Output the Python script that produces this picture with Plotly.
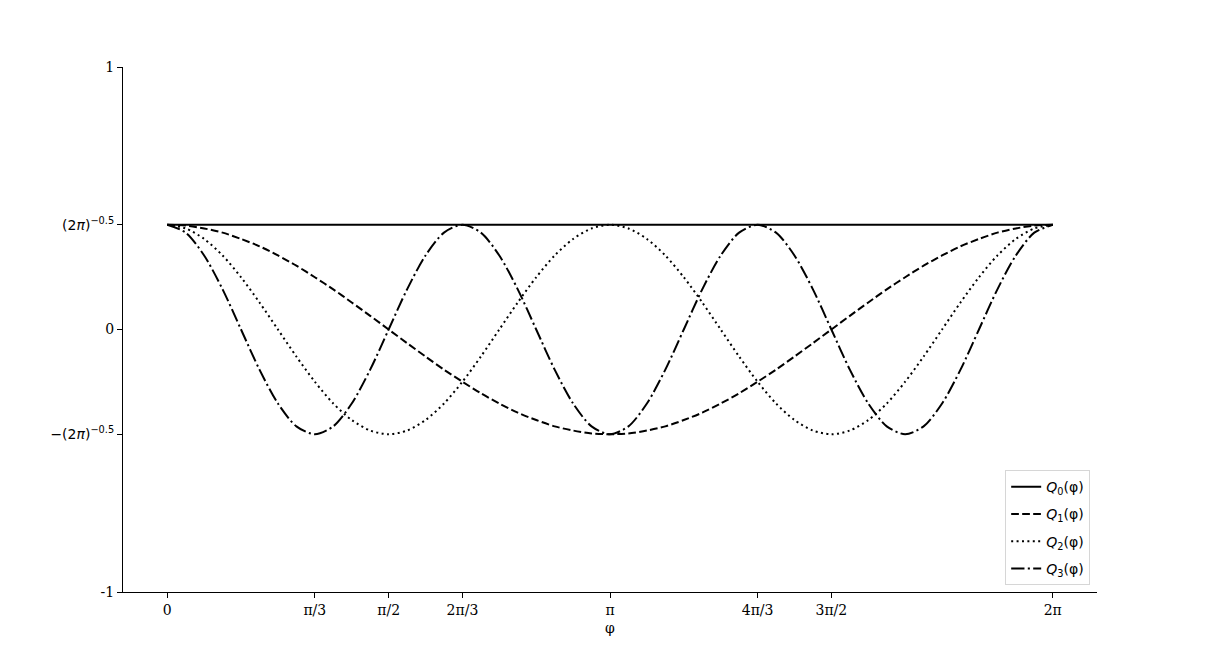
import numpy as np
import plotly.graph_objects as go

# samples every pi/24
phi = [n * np.pi / 24 for n in range(49)]
q0 = [0.399] * 49
q1 = [0.399, 0.396, 0.385, 0.369, 0.345, 0.317, 0.282, 0.243, 0.199, 0.153, 0.103, 0.052, 0.0,
      -0.052, -0.103, -0.153, -0.199, -0.243, -0.282, -0.317, -0.345, -0.369, -0.385, -0.396, -0.399,
      -0.396, -0.385, -0.369, -0.345, -0.317, -0.282, -0.243, -0.199, -0.153, -0.103, -0.052, 0.0,
      0.052, 0.103, 0.153, 0.199, 0.243, 0.282, 0.317, 0.345, 0.369, 0.385, 0.396, 0.399]
q2 = [0.399, 0.385, 0.345, 0.282, 0.199, 0.103, 0.0, -0.103, -0.199, -0.282, -0.345, -0.385, -0.399,
      -0.385, -0.345, -0.282, -0.199, -0.103, 0.0, 0.103, 0.199, 0.282, 0.345, 0.385, 0.399,
      0.385, 0.345, 0.282, 0.199, 0.103, 0.0, -0.103, -0.199, -0.282, -0.345, -0.385, -0.399,
      -0.385, -0.345, -0.282, -0.199, -0.103, 0.0, 0.103, 0.199, 0.282, 0.345, 0.385, 0.399]
q3 = [0.399, 0.369, 0.282, 0.153, 0.0, -0.153, -0.282, -0.369, -0.399, -0.369, -0.282, -0.153, 0.0,
      0.153, 0.282, 0.369, 0.399, 0.369, 0.282, 0.153, 0.0, -0.153, -0.282, -0.369, -0.399,
      -0.369, -0.282, -0.153, 0.0, 0.153, 0.282, 0.369, 0.399, 0.369, 0.282, 0.153, 0.0,
      -0.153, -0.282, -0.369, -0.399, -0.369, -0.282, -0.153, 0.0, 0.153, 0.282, 0.369, 0.399]

xtick_vals = [0, np.pi / 3, np.pi / 2, 2 * np.pi / 3, np.pi, 4 * np.pi / 3, 3 * np.pi / 2, 2 * np.pi]
xtick_text = ['0', 'π/3', 'π/2', '2π/3', 'π', '4π/3', '3π/2', '2π']
c = (2 * np.pi) ** -0.5
ytick_vals = [-1, -c, 0, c, 1]
ytick_text = ['-1',
              '<span style="font-family:DejaVu Sans">−(2<i>π</i>)<sup>−0.5</sup></span>',
              '0',
              '<span style="font-family:DejaVu Sans">(2<i>π</i>)<sup>−0.5</sup></span>',
              '1']

series = [('<i>Q</i><sub>0</sub>(φ)', q0, 'solid'),
          ('<i>Q</i><sub>1</sub>(φ)', q1, '7.7px,3.3px'),
          ('<i>Q</i><sub>2</sub>(φ)', q2, '2px,3.4px'),
          ('<i>Q</i><sub>3</sub>(φ)', q3, '13.3px,3.3px,2.1px,3.3px')]

fig = go.Figure()
for i, (name, ys, dash) in enumerate(series):
  fig.add_trace(go.Scatter(x=phi, y=ys, mode='lines', name=name, legendgroup=f'g{i}',
                           line=dict(color='black', width=2, dash=dash, shape='spline', smoothing=0.8)))

axis_font = dict(family='DejaVu Serif, serif', size=14, color='black')
fig.update_layout(
  width=1211, height=650,
  margin=dict(l=115, r=122, t=59, b=66),
  paper_bgcolor='white', plot_bgcolor='white',
  showlegend=True,
  legend=dict(x=0.993, y=0.013, xanchor='right', yanchor='bottom', tracegroupgap=6,
              bordercolor='#d6d6d6', borderwidth=1, bgcolor='white',
              font=dict(family='DejaVu Sans', size=14, color='black')),
  xaxis=dict(range=[-0.314, 2 * np.pi + 0.314], tickvals=xtick_vals, ticktext=xtick_text,
             showgrid=False, zeroline=False, showline=True, linecolor='black', linewidth=1,
             ticks='outside', ticklen=5, tickcolor='black', tickfont=axis_font,
             title=dict(text='φ', font=axis_font, standoff=6)),
  yaxis=dict(range=[-1, 1], tickvals=ytick_vals, ticktext=ytick_text,
             showgrid=False, zeroline=False, showline=True, linecolor='black', linewidth=1,
             ticks='outside', ticklen=5, tickcolor='black', tickfont=axis_font),
)

fig.write_html("out.html")
